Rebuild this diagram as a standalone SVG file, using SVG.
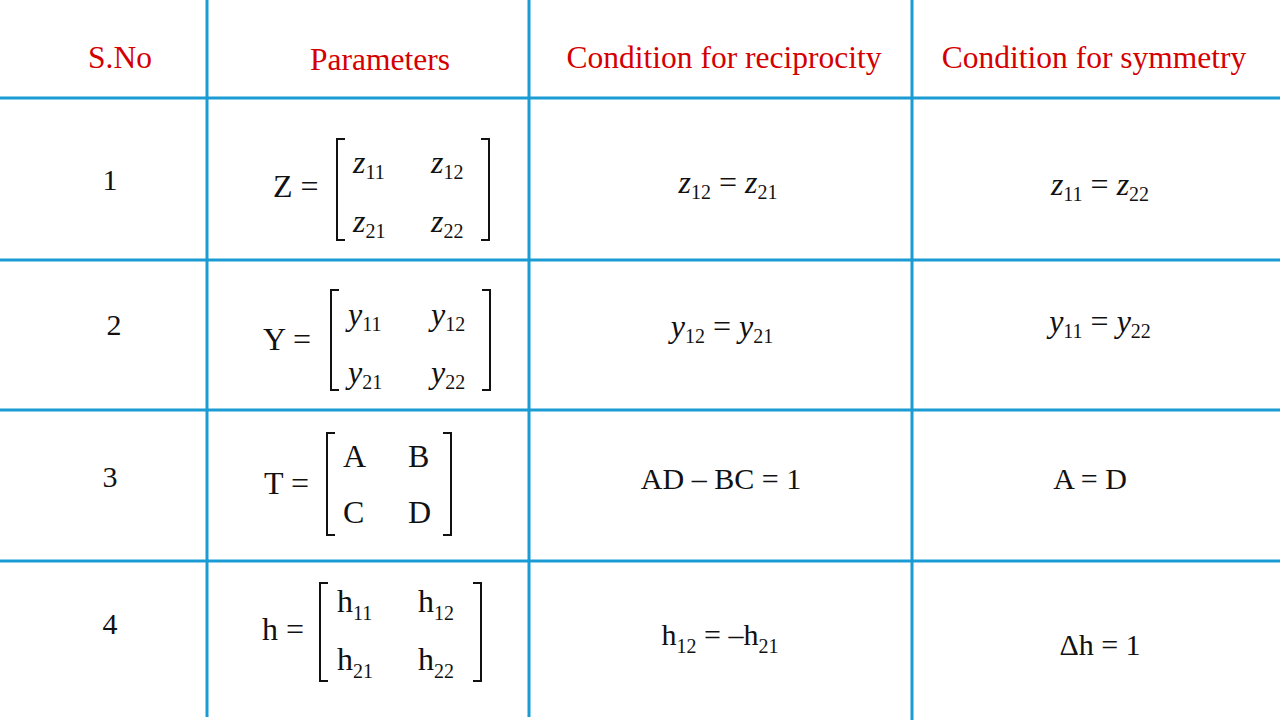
<svg xmlns="http://www.w3.org/2000/svg" width="1280" height="720" viewBox="0 0 1280 720">
<style>
.g{stroke:#1b9bd4;stroke-width:3;fill:none}
.h{font-family:"Liberation Serif",serif;font-size:31.5px;fill:#d40000}
.t{font-family:"Liberation Serif",serif;font-size:32px;fill:#111}
.m{font-family:"Liberation Serif",serif;font-size:30px;fill:#111}
.i{font-style:italic}
.s{font-size:20px}
.b{stroke:#111;stroke-width:2;fill:none}
</style>
<rect width="1280" height="720" fill="#fff"/>
<g id="grid">
<path class="g" d="M0,98H1280M0,260H1280M0,410H1280M0,561H1280M207,0V717M529,0V717M912,0V720"/>
</g>
<g id="header">
<text class="h" x="120" y="68" text-anchor="middle">S.No</text>
<text class="h" x="380" y="70" text-anchor="middle">Parameters</text>
<text class="h" x="724" y="68" text-anchor="middle">Condition for reciprocity</text>
<text class="h" x="1094" y="68" text-anchor="middle">Condition for symmetry</text>
</g>
<g id="sno" class="m">
<text x="110" y="190" text-anchor="middle">1</text>
<text x="114" y="335" text-anchor="middle">2</text>
<text x="110" y="487" text-anchor="middle">3</text>
<text x="110" y="634" text-anchor="middle">4</text>
</g>
<g id="row1">
<text class="t" x="273" y="197">Z =</text>
<path class="b" d="M345,139H337V240H345M481,139H489V240H481"/>
<text class="t" x="353" y="173"><tspan class="i">z</tspan><tspan class="s" dy="6">11</tspan></text>
<text class="t" x="431" y="173"><tspan class="i">z</tspan><tspan class="s" dy="6">12</tspan></text>
<text class="t" x="353" y="232"><tspan class="i">z</tspan><tspan class="s" dy="6">21</tspan></text>
<text class="t" x="431" y="232"><tspan class="i">z</tspan><tspan class="s" dy="6">22</tspan></text>
<text class="t" x="728" y="193" text-anchor="middle"><tspan class="i">z</tspan><tspan class="s" dy="6">12</tspan><tspan dy="-6"> = </tspan><tspan class="i">z</tspan><tspan class="s" dy="6">21</tspan></text>
<text class="t" x="1100" y="195" text-anchor="middle"><tspan class="i">z</tspan><tspan class="s" dy="6">11</tspan><tspan dy="-6"> =  </tspan><tspan class="i">z</tspan><tspan class="s" dy="6">22</tspan></text>
</g>
<g id="row2">
<text class="t" x="263" y="350">Y =</text>
<path class="b" d="M339,290H331V390H339M482,290H490V390H482"/>
<text class="t" x="348" y="325"><tspan class="i">y</tspan><tspan class="s" dy="6">11</tspan></text>
<text class="t" x="431" y="325"><tspan class="i">y</tspan><tspan class="s" dy="6">12</tspan></text>
<text class="t" x="348" y="383"><tspan class="i">y</tspan><tspan class="s" dy="6">21</tspan></text>
<text class="t" x="431" y="383"><tspan class="i">y</tspan><tspan class="s" dy="6">22</tspan></text>
<text class="t" x="722" y="337" text-anchor="middle"><tspan class="i">y</tspan><tspan class="s" dy="6">12</tspan><tspan dy="-6"> = </tspan><tspan class="i">y</tspan><tspan class="s" dy="6">21</tspan></text>
<text class="t" x="1100" y="332" text-anchor="middle"><tspan class="i">y</tspan><tspan class="s" dy="6">11</tspan><tspan dy="-6"> = </tspan><tspan class="i">y</tspan><tspan class="s" dy="6">22</tspan></text>
</g>
<g id="row3">
<text class="t" x="264" y="494">T =</text>
<path class="b" d="M335,433H327V535H335M443,433H451V535H443"/>
<text class="t" x="343" y="467">A</text>
<text class="t" x="408" y="467">B</text>
<text class="t" x="343" y="523">C</text>
<text class="t" x="408" y="523">D</text>
<text class="m" x="721" y="489" text-anchor="middle">AD – BC = 1</text>
<text class="m" x="1090" y="489" text-anchor="middle">A = D</text>
</g>
<g id="row4">
<text class="t" x="262" y="640">h =</text>
<path class="b" d="M328,583H320V681H328M473,583H481V681H473"/>
<text class="t" x="337" y="612">h<tspan class="s" dy="8">11</tspan></text>
<text class="t" x="418" y="612">h<tspan class="s" dy="8">12</tspan></text>
<text class="t" x="337" y="670">h<tspan class="s" dy="8">21</tspan></text>
<text class="t" x="418" y="670">h<tspan class="s" dy="8">22</tspan></text>
<text class="m" x="720" y="645" text-anchor="middle">h<tspan class="s" dy="8">12</tspan><tspan dy="-8"> = –h</tspan><tspan class="s" dy="8">21</tspan></text>
<text class="m" x="1100" y="655" text-anchor="middle">Δh = 1</text>
</g>
</svg>
